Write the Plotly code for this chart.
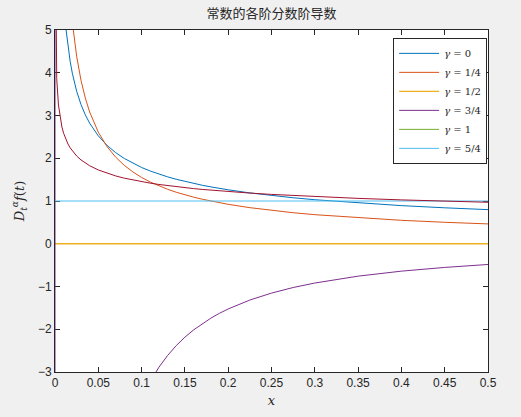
import plotly.graph_objects as go

# sample points (t)
t = [0.0001, 0.001, 0.002, 0.004, 0.006, 0.008, 0.01, 0.0125, 0.015, 0.0175, 0.02,
     0.025, 0.03, 0.035, 0.04, 0.05, 0.06, 0.07, 0.08, 0.09, 0.1, 0.11, 0.12, 0.13, 0.14,
     0.15, 0.16, 0.17, 0.18, 0.19, 0.2, 0.225, 0.25, 0.275, 0.3, 0.35, 0.4, 0.45, 0.5]

# values
y_blue = [56.4, 17.84, 12.62, 8.921, 7.284, 6.308, 5.642, 5.046, 4.607, 4.265, 3.989,
          3.568, 3.257, 3.016, 2.821, 2.523, 2.303, 2.132, 1.995, 1.881, 1.784, 1.701, 1.629, 1.565, 1.508,
          1.457, 1.410, 1.368, 1.330, 1.294, 1.262, 1.189, 1.128, 1.076, 1.030, 0.954, 0.892, 0.841, 0.798]
y_orange = [275.8, 49.05, 29.16, 17.34, 12.79, 10.31, 8.722, 7.378, 6.435, 5.733, 5.186,
            4.387, 3.826, 3.409, 3.084, 2.609, 2.275, 2.027, 1.834, 1.679, 1.551, 1.444, 1.353, 1.274, 1.205,
            1.144, 1.090, 1.042, 0.998, 0.958, 0.922, 0.844, 0.780, 0.726, 0.680, 0.606, 0.548, 0.502, 0.464]
y_purple = [-20402, -1147.2, -482.4, -202.8, -122.2, -85.27, -64.51, -48.81, -38.86, -32.05, -27.12,
            -20.52, -16.34, -13.48, -11.41, -8.628, -6.870, -5.666, -4.795, -4.139, -3.628, -3.221, -2.888, -2.614, -2.382,
            -2.186, -2.016, -1.869, -1.740, -1.626, -1.525, -1.317, -1.154, -1.024, -0.919, -0.758, -0.641, -0.554, -0.485]
y_red = [8.16, 4.589, 3.859, 3.245, 2.932, 2.729, 2.581, 2.441, 2.332, 2.244, 2.170,
         2.052, 1.961, 1.887, 1.825, 1.726, 1.649, 1.587, 1.534, 1.490, 1.451, 1.417, 1.387, 1.359, 1.334,
         1.311, 1.290, 1.271, 1.253, 1.236, 1.220, 1.185, 1.154, 1.127, 1.103, 1.061, 1.026, 0.996, 0.970]
y_zero = [0.0] * len(t)
y_one = [1.0] * len(t)
y_off = [-10.0] * len(t)   # the γ = 1 series lies outside the visible range

# purple has a spike at t = 0
t_purple = [0.0] + t
y_purple_full = [50.0] + y_purple

labels = ["<i>γ</i> = 0", "<i>γ</i> = 1/4", "<i>γ</i> = 1/2",
          "<i>γ</i> = 3/4", "<i>γ</i> = 1", "<i>γ</i> = 5/4"]

x_ticks = [0, 0.05, 0.1, 0.15, 0.2, 0.25, 0.3, 0.35, 0.4, 0.45, 0.5]
x_tick_text = ["0", "0.05", "0.1", "0.15", "0.2", "0.25", "0.3", "0.35", "0.4", "0.45", "0.5"]
y_ticks = [-3, -2, -1, 0, 1, 2, 3, 4, 5]

C_BLUE = "#0072BD"
C_ORANGE = "#D95319"
C_YELLOW = "#EDB120"
C_PURPLE = "#7E2F8E"
C_GREEN = "#77AC30"
C_LBLUE = "#4DBEEE"
C_RED = "#A2142F"

fig = go.Figure()

def add(x, y, color, name, rank, show=True, width=1):
    fig.add_trace(go.Scatter(x=x, y=y, mode="lines", name=name,
                             line=dict(color=color, width=width),
                             showlegend=show, legendrank=rank))

add(t, y_blue, C_BLUE, labels[0], 1)
add(t, y_orange, C_ORANGE, labels[1], 2)
add(t, y_zero, C_YELLOW, labels[2], 3, width=1.3)
add(t_purple, y_purple_full, C_PURPLE, labels[3], 4)
add(t, y_off, C_GREEN, labels[4], 5)
add(t, y_one, C_LBLUE, labels[5], 6)
add(t, y_red, C_RED, "", 7, show=False)

axis_common = dict(showline=True, linecolor="#262626", linewidth=1, mirror="ticks",
                   ticks="inside", ticklen=5, tickcolor="#262626", showgrid=False,
                   zeroline=False,
                   tickfont=dict(family="Liberation Sans, Arial", size=12, color="#262626"))

fig.update_layout(
    width=521, height=417,
    margin=dict(l=55, r=33, t=30, b=45),
    paper_bgcolor="#F0F0F0", plot_bgcolor="white",
    title=dict(text="常数的各阶分数阶导数", x=0.5, xref="paper", xanchor="center",
               y=1 - 13 / 417, yanchor="middle",
               font=dict(family="Noto Sans CJK SC", size=13, color="#262626")),
    xaxis=dict(range=[0, 0.5], tickvals=x_ticks, ticktext=x_tick_text,
               title=dict(text="<i>x</i>", standoff=6,
                          font=dict(family="DejaVu Serif", size=13, color="#262626")),
               **axis_common),
    yaxis=dict(range=[-3, 5], tickvals=y_ticks, layer="below traces",
               title=dict(text="<i>D</i><sub><i>t</i></sub><sup><i>α</i></sup><i>f</i>(<i>t</i>)",
                          standoff=10,
                          font=dict(family="DejaVu Serif", size=13, color="#262626")),
               **axis_common),
    legend=dict(x=0.998, y=0.977, xanchor="right", yanchor="top",
                bgcolor="white", bordercolor="#262626", borderwidth=1,
                font=dict(family="DejaVu Serif", size=10, color="#262626"),
                tracegroupgap=0, itemwidth=40),
    showlegend=True,
)

fig.write_html("out.html")
